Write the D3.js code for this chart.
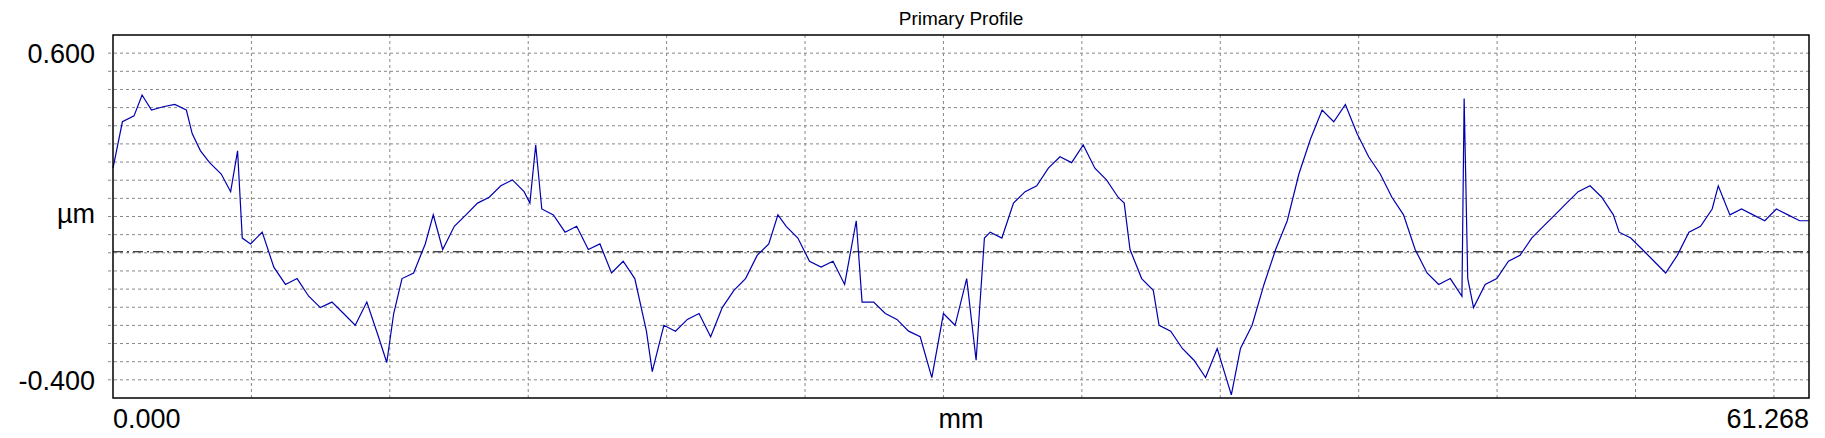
<!DOCTYPE html>
<html><head><meta charset="utf-8">
<script src="https://cdn.jsdelivr.net/npm/d3@7"></script>
<style>body{margin:0;background:#fff}</style>
</head><body>
<script>
let W=1825, H=438;
let m={left:113,right:16,top:35,bottom:40};

let xMm=[0,0.34,0.76,1.05,1.39,1.81,2.23,2.65,2.86,3.16,3.49,3.91,4.25,4.50,4.67,4.97,5.39,5.81,6.23,6.65,7.07,7.49,7.91,8.33,8.75,9.17,9.59,9.89,10.14,10.44,10.86,11.28,11.57,11.91,12.33,12.75,13.17,13.59,14.01,14.43,14.85,15.06,15.27,15.49,15.91,16.33,16.75,17.17,17.59,18.01,18.43,18.85,19.27,19.48,19.90,20.32,20.75,21.17,21.59,22.01,22.43,22.85,23.27,23.69,24.02,24.32,24.74,25.16,25.58,26.01,26.43,26.85,27.06,27.48,27.90,28.32,28.74,29.16,29.58,30.00,30.42,30.84,31.18,31.48,31.69,32.11,32.53,32.95,33.37,33.79,34.21,34.63,35.05,35.47,35.89,36.31,36.53,36.74,37.16,37.58,37.79,38.21,38.63,39.05,39.47,39.89,40.40,40.73,41.15,41.58,42.00,42.42,42.84,43.26,43.68,44.10,44.52,44.94,45.36,45.78,46.20,46.62,47.04,47.47,47.89,48.31,48.73,48.81,48.94,49.15,49.57,49.99,50.41,50.83,51.25,51.67,52.09,52.51,52.93,53.36,53.78,54.20,54.41,54.83,55.25,55.67,56.09,56.51,56.93,57.35,57.77,57.99,58.41,58.83,59.25,59.67,60.09,60.51,60.93,61.27];
let profileUm=[0.248,0.390,0.408,0.472,0.426,0.436,0.443,0.426,0.354,0.301,0.265,0.230,0.176,0.301,0.034,0.016,0.052,-0.055,-0.108,-0.090,-0.144,-0.179,-0.162,-0.197,-0.233,-0.162,-0.268,-0.347,-0.197,-0.090,-0.073,0.016,0.105,-0.001,0.070,0.105,0.141,0.159,0.194,0.212,0.176,0.141,0.319,0.123,0.105,0.052,0.070,-0.001,0.016,-0.073,-0.037,-0.090,-0.251,-0.375,-0.233,-0.251,-0.215,-0.197,-0.268,-0.179,-0.126,-0.090,-0.019,0.016,0.105,0.070,0.034,-0.037,-0.055,-0.037,-0.108,0.087,-0.162,-0.162,-0.197,-0.215,-0.251,-0.268,-0.393,-0.197,-0.233,-0.090,-0.340,0.034,0.052,0.034,0.141,0.176,0.194,0.248,0.283,0.265,0.319,0.248,0.212,0.159,0.141,-0.001,-0.090,-0.126,-0.233,-0.251,-0.304,-0.340,-0.393,-0.304,-0.446,-0.304,-0.233,-0.108,-0.001,0.087,0.230,0.337,0.426,0.390,0.443,0.354,0.283,0.230,0.159,0.105,-0.001,-0.073,-0.108,-0.090,-0.144,0.461,-0.090,-0.179,-0.108,-0.090,-0.037,-0.019,0.034,0.070,0.105,0.141,0.176,0.194,0.159,0.105,0.052,0.034,-0.001,-0.037,-0.073,-0.019,0.052,0.070,0.123,0.194,0.105,0.123,0.105,0.087,0.123,0.105,0.087,0.087];
let meanUm=-0.008;
let yTickLabels=["0.600","-0.400"];
let xTickLabels=["0.000","61.268"];

let x=d3.scaleLinear().domain([0,61.268]).range([m.left,W-m.right]);
let y=d3.scaleLinear().domain([-0.4556,0.6556]).range([H-m.bottom,m.top]);

let svg=d3.select('body').append('svg').attr('width',W).attr('height',H)
  .style('font-family','Arial, "Liberation Sans", sans-serif');

// grid
let yGrid=d3.range(0,19).map(i=>0.6-i/18);
svg.append('g').selectAll('line').data(yGrid).enter().append('line')
  .attr('x1',m.left-5).attr('x2',W-m.right)
  .attr('y1',d=>y(d)).attr('y2',d=>y(d))
  .attr('stroke','#888').attr('stroke-dasharray','3,3').attr('stroke-width',1);
svg.append('g').selectAll('line').data(d3.range(5,61,5)).enter().append('line')
  .attr('x1',d=>x(d)).attr('x2',d=>x(d))
  .attr('y1',m.top).attr('y2',H-m.bottom)
  .attr('stroke','#888').attr('stroke-dasharray','3,3').attr('stroke-width',1);

// mean line
svg.append('line').attr('x1',m.left).attr('x2',W-m.right)
  .attr('y1',y(meanUm)).attr('y2',y(meanUm))
  .attr('stroke','#000').attr('stroke-dasharray','10,4,2,4');

// profile
let line=d3.line().x((d,i)=>x(xMm[i])).y(d=>y(d));
svg.append('path').datum(profileUm).attr('d',line)
  .attr('fill','none').attr('stroke','#0000b0').attr('stroke-width',1.2);

// frame
svg.append('rect').attr('x',m.left).attr('y',m.top)
  .attr('width',W-m.left-m.right).attr('height',H-m.top-m.bottom)
  .attr('fill','none').attr('stroke','#000').attr('stroke-width',1.5);

// texts
svg.append('text').text('Primary Profile').attr('x',(m.left+W-m.right)/2).attr('y',25)
  .attr('text-anchor','middle').attr('font-size',19);
svg.append('text').text(yTickLabels[0]).attr('x',95).attr('y',y(0.6)+10)
  .attr('text-anchor','end').attr('font-size',27);
svg.append('text').text(yTickLabels[1]).attr('x',95).attr('y',y(-0.4)+10)
  .attr('text-anchor','end').attr('font-size',27);
svg.append('text').text('µm').attr('x',95).attr('y',223)
  .attr('text-anchor','end').attr('font-size',27);
svg.append('text').text(xTickLabels[0]).attr('x',m.left).attr('y',428)
  .attr('text-anchor','start').attr('font-size',27);
svg.append('text').text(xTickLabels[1]).attr('x',W-m.right).attr('y',428)
  .attr('text-anchor','end').attr('font-size',27);
svg.append('text').text('mm').attr('x',(m.left+W-m.right)/2).attr('y',428)
  .attr('text-anchor','middle').attr('font-size',27);
</script>
</body></html>
